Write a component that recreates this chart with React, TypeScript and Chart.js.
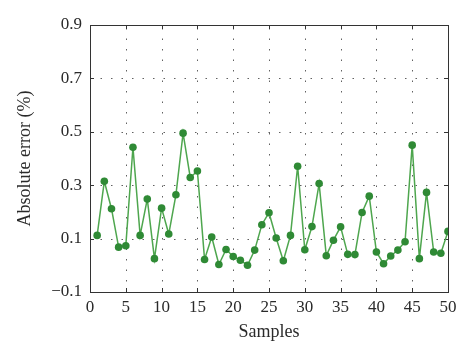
import React, { useEffect, useRef } from "react";
import { Chart, registerables } from "chart.js";

Chart.register(...registerables);

const sampleIndex: number[] = Array.from({ length: 50 }, (_, i) => i + 1);
const absoluteError: number[] = [
  0.112, 0.315, 0.212, 0.068, 0.073, 0.442, 0.112, 0.248, 0.025, 0.214,
  0.117, 0.264, 0.495, 0.329, 0.353, 0.022, 0.106, 0.003, 0.059, 0.033,
  0.019, 0.0, 0.057, 0.152, 0.197, 0.102, 0.017, 0.112, 0.371, 0.058,
  0.145, 0.306, 0.036, 0.094, 0.144, 0.041, 0.040, 0.198, 0.259, 0.050,
  0.006, 0.035, 0.057, 0.088, 0.450, 0.025, 0.273, 0.050, 0.045, 0.127,
];
const xTicks: number[] = [0, 5, 10, 15, 20, 25, 30, 35, 40, 45, 50];
const yTicks: number[] = [-0.1, 0.1, 0.3, 0.5, 0.7, 0.9];

const FONT = "'Liberation Serif', 'DejaVu Serif', serif";

const framePlugin = {
  id: "frameAndGrid",
  beforeDatasetsDraw(chart: any) {
    const { ctx, chartArea, scales } = chart;
    const { left, right, top, bottom } = chartArea;
    const xs = scales.x;
    const ys = scales.y;
    ctx.save();
    // dotted grid
    ctx.strokeStyle = "rgba(80,80,80,0.9)";
    ctx.lineWidth = 1;
    ctx.setLineDash([1.5, 9]);
    xTicks.slice(1, -1).forEach((v) => {
      const px = Math.round(xs.getPixelForValue(v)) + 0.5;
      ctx.beginPath();
      ctx.moveTo(px, bottom);
      ctx.lineTo(px, top);
      ctx.stroke();
    });
    yTicks.slice(1, -1).forEach((v) => {
      const py = Math.round(ys.getPixelForValue(v)) + 0.5;
      ctx.beginPath();
      ctx.moveTo(left, py);
      ctx.lineTo(right, py);
      ctx.stroke();
    });
    ctx.setLineDash([]);
    // frame
    ctx.strokeStyle = "#333";
    ctx.lineWidth = 1;
    ctx.strokeRect(Math.round(left) + 0.5, Math.round(top) + 0.5, Math.round(right - left), Math.round(bottom - top));
    // inward ticks
    const tl = 4;
    xTicks.forEach((v) => {
      const px = Math.round(xs.getPixelForValue(v)) + 0.5;
      ctx.beginPath();
      ctx.moveTo(px, bottom);
      ctx.lineTo(px, bottom - tl);
      ctx.moveTo(px, top);
      ctx.lineTo(px, top + tl);
      ctx.stroke();
    });
    yTicks.forEach((v) => {
      const py = Math.round(ys.getPixelForValue(v)) + 0.5;
      ctx.beginPath();
      ctx.moveTo(left, py);
      ctx.lineTo(left + tl, py);
      ctx.moveTo(right, py);
      ctx.lineTo(right - tl, py);
      ctx.stroke();
    });
    ctx.restore();
  },
};

export default function App() {
  const ref = useRef<HTMLCanvasElement | null>(null);
  useEffect(() => {
    if (!ref.current) return;
    const chart = new Chart(ref.current, {
      type: "line",
      data: {
        datasets: [
          {
            data: sampleIndex.map((s, i) => ({ x: s, y: absoluteError[i] })),
            borderColor: "#4ea64e",
            borderWidth: 1.5,
            backgroundColor: "#2f8a35",
            pointBackgroundColor: "#2f8a35",
            pointBorderColor: "#2f8a35",
            pointRadius: 3.8,
            pointBorderWidth: 0,
            tension: 0,
          },
        ],
      },
      options: {
        animation: false,
        responsive: false,
        maintainAspectRatio: false,
        layout: { padding: { left: 0, right: 26, top: 25, bottom: 0 } },
        plugins: { legend: { display: false }, tooltip: { enabled: false } },
        scales: {
          x: {
            type: "linear",
            min: 0,
            max: 50,
            afterBuildTicks: (s: any) => {
              s.ticks = xTicks.map((v) => ({ value: v }));
            },
            afterFit: (s: any) => {
              s.height = 66;
            },
            grid: { display: false, drawTicks: false },
            border: { display: false },
            ticks: {
              padding: 5,
              color: "#2a2a2a",
              font: { family: FONT, size: 17 },
              maxRotation: 0,
              autoSkip: false,
            },
            title: {
              display: true,
              text: "Samples",
              color: "#2a2a2a",
              font: { family: FONT, size: 18 },
              padding: { top: 0, bottom: 15 },
            },
          },
          y: {
            type: "linear",
            min: -0.1,
            max: 0.9,
            afterBuildTicks: (s: any) => {
              s.ticks = yTicks.map((v) => ({ value: v }));
            },
            afterFit: (s: any) => {
              s.width = 90;
            },
            grid: { display: false, drawTicks: false },
            border: { display: false },
            ticks: {
              padding: 8,
              color: "#2a2a2a",
              font: { family: FONT, size: 17 },
              callback: (v: any) => {
                const n = Number(v);
                const t = Math.abs(n).toFixed(1);
                return n < 0 ? "\u2212" + t : t;
              },
            },
            title: {
              display: true,
              text: "Absolute error (%)",
              color: "#2a2a2a",
              font: { family: FONT, size: 18 },
              padding: { top: 14, bottom: 0 },
            },
          },
        },
      },
      plugins: [framePlugin],
    });
    return () => chart.destroy();
  }, []);
  return (
    <div style={{ position: "fixed", left: 0, top: 0, width: 474, height: 358, background: "#fff" }}>
      <canvas ref={ref} width={474} height={358} />
    </div>
  );
}
